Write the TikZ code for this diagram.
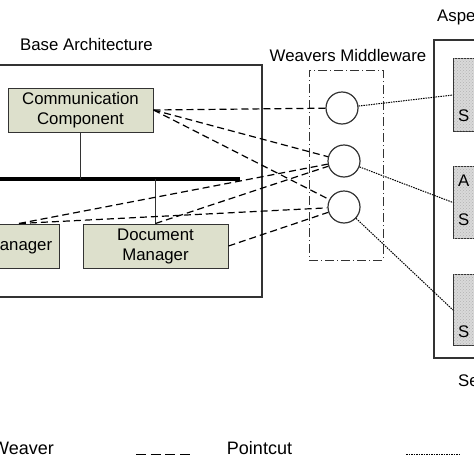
\documentclass[tikz,border=0pt]{standalone}
\usepackage{fontspec}
\setmainfont{Liberation Sans}
\usetikzlibrary{positioning,patterns}
\definecolor{compfill}{RGB}{221,224,204}
\definecolor{linegray}{RGB}{51,51,51}
\begin{document}
\begin{tikzpicture}[x=1pt,y=-1pt]
		\tikzstyle{every node}+=[inner sep=0pt, font=\fontsize{16.8}{20}\selectfont]
		\tikzstyle{comp}=[draw=linegray, line width=1pt, fill=compfill, align=center, minimum height=44pt]
		\tikzstyle{aspectbox}=[draw=linegray, line width=1pt, fill=gray!30, postaction={pattern=crosshatch dots, pattern color=gray!60}, minimum width=60pt, anchor=north west]
		\tikzstyle{weave}=[black, line width=1.2pt, dash pattern=on 7pt off 4pt]
		\tikzstyle{pointcut}=[black, line width=1pt, dash pattern=on 1.5pt off 1pt]
		\tikzstyle{weaver}=[draw=linegray, line width=1.2pt, circle, minimum size=32pt]
		\tikzstyle{mwbox}=[draw=linegray, line width=1pt, dash pattern=on 9pt off 3pt on 1pt off 3pt, minimum width=74pt, minimum height=190pt]
		\tikzstyle{legend}=[font=\fontsize{18}{21}\selectfont]
		\useasboundingbox (0,0) rectangle (474,474);
		\clip (0,0) rectangle (474,474);
		% base architecture
		\draw [linegray, line width=1.2pt] (-10,65) rectangle (262,297);
		\node [anchor=west] (basetitle) at (20,44) {Base Architecture};
		\node [comp, minimum width=145pt] (comm) at (80.5,110) {Communication\\Component};
		\node [comp, minimum width=145pt] (docmgr) at (155.5,246) {Document\\Manager};
		\node [comp, minimum width=80pt] (mgr) at (19,246) {Manager};
		\coordinate (busL) at (-10,179);
		\coordinate (busR) at (240,179);
		\draw [line width=4pt] (busL) -- (busR);
		\draw [linegray, line width=0.8pt] (comm.south) -- (comm.south |- busR);
		\draw [linegray, line width=0.8pt] (docmgr.north) -- (docmgr.north |- busR);
		% weavers middleware
		\node (mwtitle) at (348,55) {Weavers Middleware};
		\node [mwbox] (mw) at (346,165) {};
		\node [weaver] (w1) at (342,108) {};
		\node [weaver] (w2) at (344,161) {};
		\node [weaver] (w3) at (344,207) {};
		% aspects
		\draw [linegray, line width=1.2pt] (434,40) rectangle (490,358);
		\node [anchor=west] (asptitle) at (437,17) {Aspe};
		\node [anchor=west] (aspfoot) at (458,381) {Se};
		\node [aspectbox, minimum height=73pt] (s1) at (453,58) {};
		\node [aspectbox, minimum height=72pt] (s2) at (453,166) {};
		\node [aspectbox, minimum height=71pt] (s3) at (453,274) {};
		\node [anchor=west] (s1txt) at (458,116) {S};
		\node [anchor=west] (s2top) at (458,181) {A};
		\node [anchor=west] (s2txt) at (458,220) {S};
		\node [anchor=west] (s3txt) at (458,332) {S};
		% weavers
		\draw [weave] (comm.east) -- (w1);
		\draw [weave] (comm.east) -- (w2);
		\draw [weave] (comm.east) -- (w3);
		\draw [weave] (mgr.north) -- (w2);
		\draw [weave] (mgr.north) -- (w3);
		\draw [weave] (docmgr.north) -- (w2);
		\draw [weave] (docmgr.east) -- (w3);
		% pointcuts
		\draw [pointcut] (w1) -- (s1.west);
		\draw [pointcut] (w2) -- (s2.west);
		\draw [pointcut] (w3) -- (s3.west);
		% legend
		\node [legend, anchor=east] (lgweaver) at (54,448) {Weaver};
		\coordinate (lwA) at (136,454);
		\coordinate (lwB) at (190,454);
		\draw [black, line width=1pt, dash pattern=on 10pt off 4.7pt] (lwA) -- (lwB);
		\node [legend] (lgpoint) at (259.5,448) {Pointcut};
		\coordinate (lpA) at (406,454);
		\coordinate (lpB) at (461,454);
		\draw [pointcut] (lpA) -- (lpB);
\end{tikzpicture}
\end{document}
